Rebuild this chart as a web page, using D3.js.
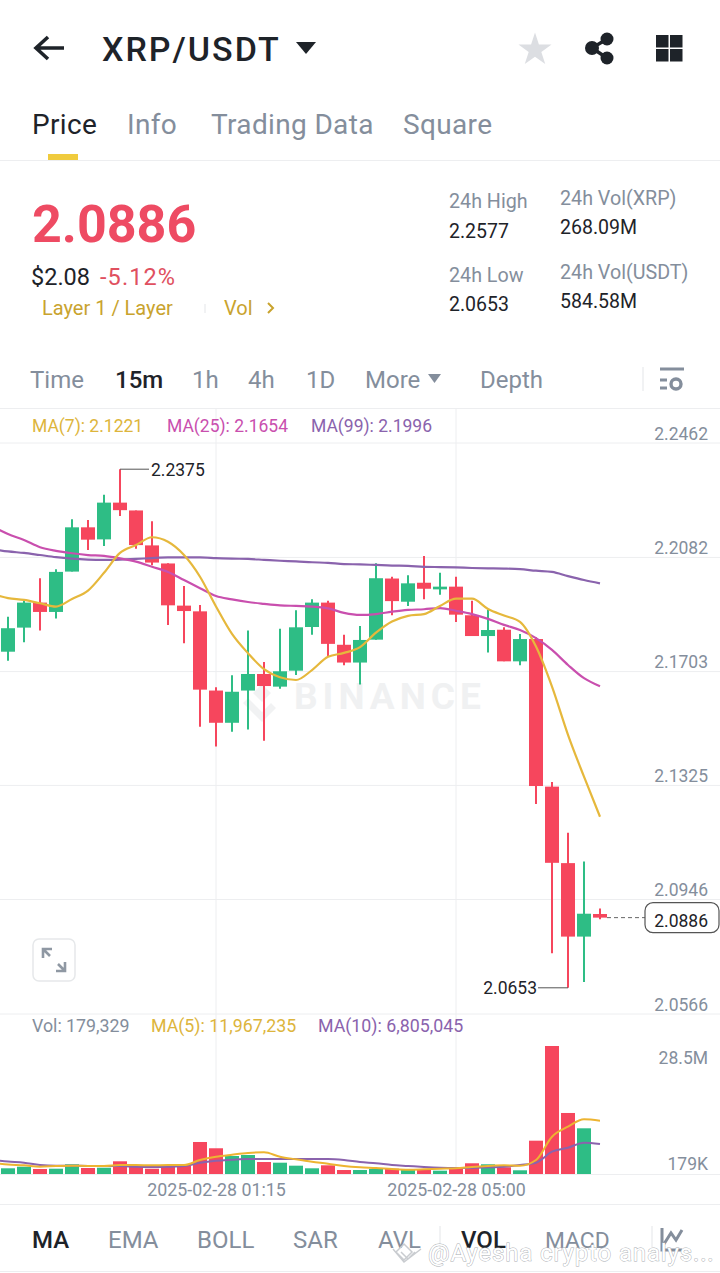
<!DOCTYPE html>
<html>
<head>
<meta charset="utf-8">
<style>
  html, body { margin: 0; padding: 0; background: #fff; }
  svg { display: block; font-family: Roboto, sans-serif; }
</style>
<script src="https://cdn.jsdelivr.net/npm/d3@7"></script>
</head>
<body>
<svg id="chart" width="720" height="1273"></svg>
<script>
// candles, left to right, 15m each
const opens  = [2.1769,2.1849,2.1932,2.1901,2.2035,2.2182,2.2142,2.2264,2.2238,2.2122,2.2062,2.1922,2.1903,2.1640,2.1533,2.1640,2.1695,2.1653,2.1706,2.1851,2.1932,2.1792,2.1733,2.1809,2.2012,2.1935,2.1998,2.1976,2.1985,2.1890,2.1821,2.1842,2.1737,2.1811,2.1321,2.1067,2.0823,2.0898];
const highs  = [2.1885,2.1943,2.2013,2.2043,2.2209,2.2206,2.2290,2.2375,2.2238,2.2202,2.2063,2.1987,2.1924,2.1651,2.1691,2.1839,2.1735,2.1845,2.1907,2.1943,2.1938,2.1825,2.1854,2.2063,2.2018,2.2023,2.2087,2.2031,2.2018,2.1938,2.1908,2.1850,2.1828,2.1817,2.1336,2.1168,2.1072,2.0916];
const lows   = [2.1739,2.1800,2.1839,2.1879,2.2035,2.2107,2.2120,2.2220,2.2111,2.2056,2.1858,2.1797,2.1520,2.1454,2.1503,2.1511,2.1473,2.1646,2.1692,2.1825,2.1755,2.1724,2.1660,2.1809,2.1890,2.1921,2.1943,2.1958,2.1868,2.1821,2.1766,2.1737,2.1724,2.1263,2.0768,2.0653,2.0672,2.0881];
const closes = [2.1847,2.1932,2.1901,2.2034,2.2182,2.2141,2.2264,2.2239,2.2123,2.2065,2.1923,2.1904,2.1643,2.1533,2.1636,2.1695,2.1655,2.1704,2.1850,2.1932,2.1795,2.1733,2.1808,2.2013,2.1937,2.1996,2.1978,2.1985,2.1892,2.1821,2.1841,2.1737,2.1811,2.1323,2.1068,2.0823,2.0899,2.0886];
// volume in millions
const volumes = [1.44,1.79,1.29,1.35,2.33,1.51,1.57,2.99,2.17,1.35,2.17,1.95,7.26,5.87,4.16,4.38,2.83,2.68,2.02,1.44,2.10,1.06,1.06,1.29,1.35,1.13,1.13,0.91,1.29,2.55,2.33,1.66,1.00,7.55,28.5,13.68,10.29,0.179];

// moving averages start one candle before the first visible one (off the left edge)
const ma7  = [2.1961,2.1947,2.1941,2.1930,2.1919,2.1944,2.1972,2.2031,2.2097,2.2123,2.2149,2.2134,2.2090,2.2018,2.1919,2.1828,2.1764,2.1711,2.1684,2.1675,2.1708,2.1752,2.1765,2.1784,2.1832,2.1869,2.1888,2.1894,2.1921,2.1945,2.1945,2.1911,2.1889,2.1868,2.1786,2.1653,2.1493,2.1354,2.1221];
const ma25 = [2.2186,2.2160,2.2140,2.2116,2.2104,2.2096,2.2090,2.2087,2.2079,2.2068,2.2051,2.2034,2.2007,2.1980,2.1954,2.1943,2.1934,2.1928,2.1923,2.1921,2.1919,2.1913,2.1898,2.1891,2.1894,2.1902,2.1908,2.1910,2.1914,2.1905,2.1894,2.1878,2.1858,2.1841,2.1814,2.1775,2.1725,2.1681,2.1654];
const ma99 = [2.2110,2.2102,2.2097,2.2090,2.2083,2.2078,2.2075,2.2074,2.2075,2.2077,2.2080,2.2082,2.2082,2.2082,2.2080,2.2078,2.2077,2.2074,2.2071,2.2069,2.2066,2.2064,2.2060,2.2059,2.2057,2.2055,2.2054,2.2051,2.2050,2.2049,2.2047,2.2046,2.2045,2.2043,2.2038,2.2034,2.2020,2.2007,2.1996];
const volMa5  = [2.61,2.28,2.10,1.79,1.95,2.02,1.95,1.95,2.17,2.17,2.10,2.17,2.17,3.28,4.01,4.45,4.83,4.98,4.01,3.43,2.90,2.46,1.95,1.66,1.51,1.29,1.13,1.22,1.35,1.44,1.73,1.95,2.10,2.02,3.28,8.43,10.65,12.28,11.967];
const volMa10 = [3.28,2.94,2.68,2.17,2.02,2.02,1.95,1.95,1.95,1.79,1.73,1.79,1.95,2.68,3.12,3.34,3.50,3.50,3.50,3.50,3.50,3.50,3.28,2.83,2.55,2.17,1.95,1.73,1.57,1.51,1.51,1.66,1.79,2.17,2.68,5.11,6.00,7.11,6.805];

const priceTicks = [2.2462,2.2082,2.1703,2.1325,2.0946,2.0566];
const timeTicks = [13,28];
const timeLabels = ["2025-02-28 01:15","2025-02-28 05:00"];
const lastPrice = 2.0886, maxPrice = 2.2375, minPrice = 2.0653;

const UP = "#2EBD85", DOWN = "#F6465D", GRID = "#EDEEF0", GREY = "#848E9C", DARK = "#1E2329";
const YEL = "#E6B83C", MAG = "#C94FAE", PUR = "#8A63AD", LABEL_YEL = "#C9A32E";

const svg = d3.select("#chart");
const x = d3.scaleLinear().domain([0, 37]).range([8, 600]);
const y = d3.scaleLinear().domain([2.0566, 2.2462]).range([1014, 443]);
const yVol = d3.scaleLinear().domain([0.179, 28.5]).range([1174, 1046]);

function label(txt, px, py, size, color, weight, anchor) {
  return svg.append("text").attr("x", px).attr("y", py).text(txt)
    .attr("font-size", size).attr("fill", color)
    .attr("font-weight", weight || 400).attr("text-anchor", anchor || "start");
}
function hline(y0, x0, x1) {
  svg.append("line").attr("x1", x0 || 0).attr("x2", x1 || 720).attr("y1", y0).attr("y2", y0)
    .attr("stroke", GRID).attr("stroke-width", 1);
}

// ---- header
svg.append("path").attr("d", "M36 48H64M48 37L36 48L48 59").attr("fill", "none")
  .attr("stroke", DARK).attr("stroke-width", 3.6);
label("XRP/USDT", 102, 61, 34, DARK, 500).attr("letter-spacing", 2);
svg.append("path").attr("d", "M296 42H316L306 54Z").attr("fill", DARK);
svg.append("path").attr("d", d3.symbol(d3.symbolStar, 340)()).attr("transform", "translate(535,50)").attr("fill", "#DCDEE2");
svg.append("g").call(g => {
  g.append("path").attr("d", "M607 39L592 48L607 58").attr("fill", "none").attr("stroke", DARK).attr("stroke-width", 3.5);
  [[607,39,6.5],[592,48,7],[607,58,6.5]].forEach(c => g.append("circle").attr("cx", c[0]).attr("cy", c[1]).attr("r", c[2]).attr("fill", DARK));
});
[[656,35],[670,35],[656,49],[670,49]].forEach(c => svg.append("rect").attr("x", c[0]).attr("y", c[1]).attr("width", 12.5).attr("height", 12.5).attr("fill", DARK));

[["Price",32,DARK],["Info",127,GREY],["Trading Data",211,GREY],["Square",403,GREY]].forEach(t => label(t[0], t[1], 134, 28, t[2]).attr("letter-spacing", 0.35));
svg.append("rect").attr("x", 48).attr("y", 154).attr("width", 30).attr("height", 6).attr("fill", "#F0CB3D");
hline(160.5);

// ---- price block
label("2.0886", 32, 242, 52, "#EE4B63", 700);
label("$2.08", 31, 285, 23.5, DARK, 400);
label("-5.12%", 100, 285, 23.5, "#E0505F", 400).attr("letter-spacing", 1.1);
label("Layer 1 / Layer", 42, 315, 20, LABEL_YEL);
svg.append("line").attr("x1", 205).attr("x2", 205).attr("y1", 304).attr("y2", 313).attr("stroke", "#E3E5E8");
label("Vol", 224, 315, 20, LABEL_YEL);
svg.append("path").attr("d", "M268 303L273 308L268 313").attr("fill", "none").attr("stroke", LABEL_YEL).attr("stroke-width", 2);

label("24h High", 449, 208, 19.7, GREY);
label("2.2577", 449, 238, 19.5, DARK);
label("24h Low", 449, 282, 19.7, GREY);
label("2.0653", 449, 311, 19.5, DARK);
label("24h Vol(XRP)", 560, 205, 19.7, GREY);
label("268.09M", 560, 234, 19.5, DARK);
label("24h Vol(USDT)", 560, 279, 19.7, GREY);
label("584.58M", 560, 308, 19.5, DARK);

// ---- interval row
[["Time",30,GREY,400],["15m",115,DARK,500],["1h",192,GREY,400],["4h",248,GREY,400],["1D",306,GREY,400],["More",365,GREY,400],["Depth",480,GREY,400]]
  .forEach(t => label(t[0], t[1], 388, 24, t[2], t[3]));
svg.append("path").attr("d", "M428 374H441L434.5 383Z").attr("fill", GREY);
svg.append("line").attr("x1", 643).attr("x2", 643).attr("y1", 367).attr("y2", 391).attr("stroke", "#E3E5E8");
svg.append("path").attr("d", "M660 369H684M660 380H667M660 388H667").attr("stroke", GREY).attr("stroke-width", 3).attr("fill", "none");
svg.append("circle").attr("cx", 676).attr("cy", 384).attr("r", 5).attr("fill", "none").attr("stroke", GREY).attr("stroke-width", 3.4);

hline(408.5);

// ---- grid + axes
const priceAxis = d3.axisRight(y).tickValues(priceTicks).tickFormat(d3.format(".4f")).tickSize(0);
const axisG = svg.append("g").attr("transform", "translate(655,0)").call(priceAxis);
axisG.select(".domain").remove();
axisG.selectAll("text").attr("x", 53).attr("dy", "-3.6").attr("text-anchor", "end")
  .attr("font-size", 17.5).attr("fill", GREY).attr("font-family", "Roboto");
svg.selectAll(".pgrid").data(priceTicks).enter().append("line").attr("class", "pgrid")
  .attr("x1", 0).attr("x2", 720).attr("y1", d => y(d)).attr("y2", d => y(d))
  .attr("stroke", GRID);
svg.selectAll(".tgrid").data(timeTicks).enter().append("line").attr("class", "tgrid")
  .attr("x1", d => x(d)).attr("x2", d => x(d)).attr("y1", 409).attr("y2", 1174)
  .attr("stroke", GRID);

const timeAxis = d3.axisBottom(x).tickValues(timeTicks).tickFormat((d, i) => timeLabels[i]).tickSize(0);
const timeG = svg.append("g").attr("transform", "translate(0,1174)").call(timeAxis);
timeG.select(".domain").remove();
timeG.selectAll("text").attr("y", 22).attr("dy", 0).attr("font-size", 17.8).attr("fill", GREY).attr("font-family", "Roboto");
hline(1174.5);
hline(1204.5);
hline(1271.5);

// watermark
svg.append("path").attr("d", "M262 684L271 693L262 702L253 693ZM248 698L257 707L262 712L271 703L276 708L262 722L243 703Z")
  .attr("fill", "#F1F2F3");
label("BINANCE", 294, 709, 37, "#F0F1F2", 700).attr("letter-spacing", 5);

// legends
label("MA(7): 2.1221", 32, 432, 17.5, "#DDB53C");
label("MA(25): 2.1654", 167, 432, 17.5, MAG);
label("MA(99): 2.1996", 311, 432, 17.5, PUR);
label("Vol: 179,329", 32, 1032, 17.8, GREY);
label("MA(5): 11,967,235", 151, 1032, 17.8, "#DDB53C");
label("MA(10): 6,805,045", 318, 1032, 17.8, PUR);

// ---- candles
const idx = d3.range(opens.length);
svg.append("g").selectAll("line").data(idx).enter().append("line")
  .attr("x1", i => x(i)).attr("x2", i => x(i))
  .attr("y1", i => y(highs[i])).attr("y2", i => y(lows[i]))
  .attr("stroke", i => closes[i] >= opens[i] ? UP : DOWN).attr("stroke-width", 2);
svg.append("g").selectAll("rect").data(idx).enter().append("rect")
  .attr("x", i => x(i) - 7).attr("width", 14)
  .attr("y", i => y(Math.max(opens[i], closes[i])))
  .attr("height", i => Math.abs(y(opens[i]) - y(closes[i])))
  .attr("fill", i => closes[i] >= opens[i] ? UP : DOWN);

// ---- MA lines (index -1 sits past the left edge)
const priceLine = d3.line().x((d, i) => x(i - 1)).y(d => y(d)).curve(d3.curveMonotoneX);
[[ma99,PUR],[ma25,MAG],[ma7,YEL]].forEach(s => {
  svg.append("path").attr("d", priceLine(s[0])).attr("fill", "none").attr("stroke", s[1]).attr("stroke-width", 2.2);
});

// ---- high / low / last markers
svg.append("path").attr("d", `M${x(7)} ${y(maxPrice)}H${x(7) + 29}`).attr("stroke", "#555").attr("fill", "none");
label("2.2375", x(7) + 31, y(maxPrice) + 6.5, 17.5, DARK);
svg.append("path").attr("d", `M${x(35)} ${y(minPrice)}H${x(35) - 30}`).attr("stroke", "#555").attr("fill", "none");
label("2.0653", x(35) - 31, y(minPrice) + 6.5, 17.5, DARK, 400, "end");

svg.append("line").attr("x1", x(37) + 7).attr("x2", 645).attr("y1", y(lastPrice)).attr("y2", y(lastPrice))
  .attr("stroke", "#666").attr("stroke-dasharray", "4 3");
svg.append("rect").attr("x", 645).attr("y", y(lastPrice) - 15).attr("width", 74).attr("height", 30).attr("rx", 8)
  .attr("fill", "#fff").attr("stroke", "#555").attr("stroke-width", 1.2);
label("2.0886", 708, y(lastPrice) + 9, 17.5, DARK, 400, "end");

// expand button
svg.append("rect").attr("x", 33).attr("y", 939).attr("width", 42).attr("height", 42).attr("rx", 6)
  .attr("fill", "#fff").attr("stroke", "#E6E8EA").attr("stroke-width", 1.5);
svg.append("path").attr("d", "M43 958V949H52M43 949L50 956M65 962V971H56M65 971L58 964")
  .attr("fill", "none").attr("stroke", "#8F98A3").attr("stroke-width", 2.6);

// ---- volume
svg.append("g").selectAll("rect").data(idx).enter().append("rect")
  .attr("x", i => x(i) - 7).attr("width", 14)
  .attr("y", i => yVol(volumes[i]))
  .attr("height", i => yVol.range()[0] - yVol(volumes[i]))
  .attr("fill", i => closes[i] >= opens[i] ? UP : DOWN);
const volLine = d3.line().x((d, i) => x(i - 1)).y(d => yVol(d)).curve(d3.curveMonotoneX);
[[volMa10,PUR],[volMa5,"#EDB431"]].forEach(s => {
  svg.append("path").attr("d", volLine(s[0])).attr("fill", "none").attr("stroke", s[1]).attr("stroke-width", 2);
});
label("28.5M", 708, 1063.5, 17.5, GREY, 400, "end");
label("179K", 708, 1169.5, 17.5, GREY, 400, "end");

// ---- indicator tabs
[["MA",32,DARK,500],["EMA",108,GREY,400],["BOLL",197,GREY,400],["SAR",293,GREY,400],["AVL",378,GREY,400],["VOL",461,DARK,500],["MACD",545,GREY,400]]
  .forEach(t => label(t[0], t[1], 1248, t[0] === "MACD" ? 22.8 : 24, t[2], t[3]));
[440,652].forEach(px => svg.append("line").attr("x1", px).attr("x2", px).attr("y1", 1226).attr("y2", 1250).attr("stroke", "#E3E5E8"));
svg.append("path").attr("d", "M662 1228V1250H682M664 1244L671 1233L676 1240L682 1230").attr("fill", "none").attr("stroke", GREY).attr("stroke-width", 3);

// reposter overlay
svg.append("path").attr("d", "M396 1252L404 1244L412 1252L404 1260ZM401 1252L408 1259L415 1252M393 1249L404 1262L421 1249")
  .attr("fill", "none").attr("stroke", "#C9CCD0").attr("stroke-width", 1.5);
label("@Ayesha crypto analys...", 428, 1261, 24, "#fff", 400)
  .attr("stroke", "#A9ADB2").attr("stroke-width", 0.9).attr("paint-order", "stroke").attr("letter-spacing", 0.85);
</script>
</body>
</html>
